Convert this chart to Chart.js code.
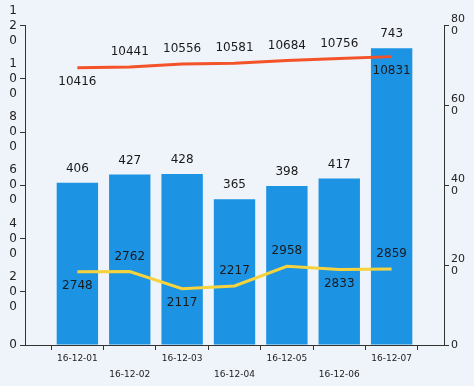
<!DOCTYPE html>
<html>
<head>
<meta charset="utf-8">
<script src="https://cdn.jsdelivr.net/npm/chart.js@4/dist/chart.umd.min.js"></script>
<style>
  html, body { margin: 0; padding: 0; background: #eff3fa; }
  #wrap { width: 474px; height: 386px; }
</style>
</head>
<body>
<div id="wrap"><canvas id="mixChart"></canvas></div>
<script>
const days = ["16-12-01", "16-12-02", "16-12-03", "16-12-04", "16-12-05", "16-12-06", "16-12-07"];
const barValues = [406, 427, 428, 365, 398, 417, 743];
const redValues = [10416, 10441, 10556, 10581, 10684, 10756, 10831];
const yellowValues = [2748, 2762, 2117, 2217, 2958, 2833, 2859];
const leftTicks = [0, 200, 400, 600, 800, 1000, 1200];
const rightTicks = [0, 200, 400, 600, 800];
// lines are read on the left axis in tens
const lineUnit = 10;
// where each line label sits relative to its point
const redLabelSide = ["below", "above", "above", "above", "above", "above", "below"];
const yellowLabelSide = ["below", "above", "below", "above", "above", "below", "above"];

// one empty slot at each end so the axes sit a full step away from the bars
const labels = ["", ...days, ""];
const pad = arr => [null, ...arr, null];

const valueLabels = {
  id: "valueLabels",
  afterDatasetsDraw(chart) {
    const ctx = chart.ctx;
    ctx.save();
    ctx.font = "12px 'DejaVu Sans'";
    ctx.fillStyle = "#1a1a1a";
    ctx.textAlign = "center";
    ctx.textBaseline = "middle";
    chart.data.datasets.forEach((ds, di) => {
      const meta = chart.getDatasetMeta(di);
      meta.data.forEach((el, i) => {
        if (ds.data[i] == null) return;
        const k = i - 1;
        if (ds.type === "bar") {
          ctx.fillText(barValues[k], el.x, el.y - 14);
        } else {
          const side = ds.sides[k];
          const dy = side === "above" ? -15 : 14;
          ctx.fillText(ds.raw[k], el.x, el.y + dy);
        }
      });
    });
    ctx.restore();
  }
};

const config = {
  data: {
    labels: labels,
    datasets: [
      {
        type: "line",
        data: pad(redValues.map(v => v / lineUnit)),
        raw: redValues,
        sides: redLabelSide,
        yAxisID: "yLeft",
        borderColor: "#f4532a",
        borderWidth: 3,
        pointRadius: 0,
        tension: 0,
        order: 1
      },
      {
        type: "line",
        data: pad(yellowValues.map(v => v / lineUnit)),
        raw: yellowValues,
        sides: yellowLabelSide,
        yAxisID: "yLeft",
        borderColor: "#f6d33c",
        borderWidth: 3,
        pointRadius: 0,
        tension: 0,
        order: 2
      },
      {
        type: "bar",
        data: pad(barValues),
        yAxisID: "yRight",
        backgroundColor: "#1d93e4",
        categoryPercentage: 1,
        barPercentage: 0.79,
        order: 3
      }
    ]
  },
  options: {
    responsive: true,
    maintainAspectRatio: false,
    animation: false,
    layout: { padding: { top: 24, left: 0, right: 0, bottom: 0 } },
    plugins: {
      legend: { display: false },
      tooltip: { enabled: false }
    },
    scales: {
      x: {
        offset: false,
        grid: { drawOnChartArea: false, tickLength: 5, color: "#333" },
        border: { display: true, color: "#333", width: 1 },
        ticks: {
          autoSkip: false,
          maxRotation: 0,
          padding: 1,
          color: "#222",
          font: { family: "DejaVu Sans", size: 9, lineHeight: 1.75 },
          callback: function (val, i) {
            const lab = labels[i];
            if (!lab) return "";
            return i % 2 === 0 ? ["", lab] : lab;
          }
        },
        afterFit(scale) { scale.height = 41; }
      },
      yLeft: {
        position: "left",
        min: 0,
        max: 1200,
        grid: { drawOnChartArea: false, tickLength: 5, color: "#333" },
        border: { display: true, color: "#333", width: 1 },
        afterBuildTicks(scale) { scale.ticks = leftTicks.map(v => ({ value: v })); },
        ticks: {
          padding: 3,
          color: "#222",
          font: { family: "DejaVu Sans", size: 12, lineHeight: 1.25 },
          callback: v => String(v).slice(0, 3).split("")
        },
        afterFit(scale) { scale.width = 25; }
      },
      yRight: {
        position: "right",
        min: 0,
        max: 800,
        grid: { drawOnChartArea: false, tickLength: 5, color: "#333" },
        border: { display: true, color: "#333", width: 1 },
        afterBuildTicks(scale) { scale.ticks = rightTicks.map(v => ({ value: v })); },
        ticks: {
          padding: 2,
          color: "#222",
          font: { family: "DejaVu Sans", size: 11, lineHeight: 1.1 },
          callback: v => v === 0 ? "0" : [String(v).slice(0, 2), String(v).slice(2)]
        },
        afterFit(scale) { scale.width = 30; }
      }
    }
  },
  plugins: [valueLabels]
};

const mixChart = new Chart(document.getElementById("mixChart"), config);
</script>
</body>
</html>
